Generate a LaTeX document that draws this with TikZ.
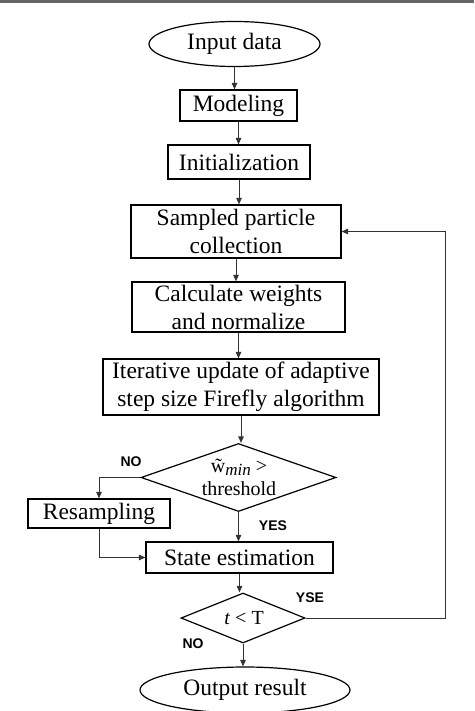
\documentclass[tikz,border=0pt]{standalone}
\usepackage{fontspec}
\setmainfont{Liberation Serif}
\newfontfamily\labfont{Liberation Sans}
\usetikzlibrary{shapes.geometric,arrows.meta}
\begin{document}
\begin{tikzpicture}[x=1pt,y=-1pt,
  every node/.style={inner sep=0pt},
  boxnode/.style={draw,line width=1.2pt,rectangle,align=center,font=\fontsize{23.5}{28}\selectfont},
  ellnode/.style={draw,line width=1.2pt,ellipse,font=\fontsize{23.5}{28}\selectfont},
  dianode/.style={draw,line width=1.2pt,diamond},
  diatext/.style={align=center,font=\fontsize{20}{23}\selectfont},
  lab/.style={font=\labfont\bfseries\fontsize{14}{16}\selectfont},
  conn/.style={draw=black!80,line width=0.9pt},
  arr/.style={conn,-{Triangle[length=6.5pt,width=5.5pt]}}
]
\useasboundingbox (0,0) rectangle (474,711);
\fill[black!60] (0,0) rectangle (474,3);

\node[ellnode,minimum width=171,minimum height=45] (in) at (234.5,44) {Input data};
\node[boxnode,minimum width=117,minimum height=31] (mod) at (238.5,105.5) {Modeling};
\node[boxnode,minimum width=142,minimum height=34] (init) at (239,162) {Initialization};
\node[boxnode,minimum width=210,minimum height=53] (samp) at (236,231.5) {Sampled particle\\collection};
\node[boxnode,minimum width=213,minimum height=50] (calc) at (238.5,307) {Calculate weights\\and normalize};
\node[boxnode,minimum width=276,minimum height=56] (iter) at (241,387) {Iterative update of adaptive\\step size Firefly algorithm};
\node[dianode,minimum width=195,minimum height=68] (d1) at (238.5,477.5) {};
\node[diatext] (d1t) at (239,477) {\~{w}{\fontsize{17}{17}\selectfont\raisebox{-3pt}{\itshape min}} >\\threshold};
\node[boxnode,minimum width=142,minimum height=29] (res) at (99,513.5) {Resampling};
\node[boxnode,minimum width=187,minimum height=31] (est) at (239.5,557.5) {State estimation};
\node[dianode,minimum width=124,minimum height=50] (d2) at (243,618) {};
\node[diatext] (d2t) at (244,618) {\textit{t} < T};
\node[ellnode,minimum width=210,minimum height=46] (out) at (245,690) {Output result};

\draw[arr] (in.south) -- (in.south |- mod.north);
\draw[arr] (mod.south) -- (mod.south |- init.north);
\draw[arr] (init.south) -- (init.south |- samp.north);
\draw[arr] (samp.south) -- (samp.south |- calc.north);
\draw[arr] (calc.south) -- (calc.south |- iter.north);
\draw[arr] (iter.south) -- (iter.south |- d1.north);
\draw[arr] (d1.west) -| (res.north);
\draw[arr] (d1.south) -- (d1.south |- est.north);
\draw[arr] (res.south) |- (est.west);
\draw[arr] (est.south) -- (est.south |- d2.north);
\draw[arr] (d2.south) -- (d2.south |- out.north);
\coordinate (fb) at (445,618);
\draw[arr] (d2.east) -- (fb) |- (samp.east);

\node[lab] (lno1) at (131,462) {NO};
\node[lab] (lyes) at (273,526) {YES};
\node[lab] (lyse) at (310,598) {YSE};
\node[lab] (lno2) at (193,644) {NO};
\end{tikzpicture}
\end{document}
